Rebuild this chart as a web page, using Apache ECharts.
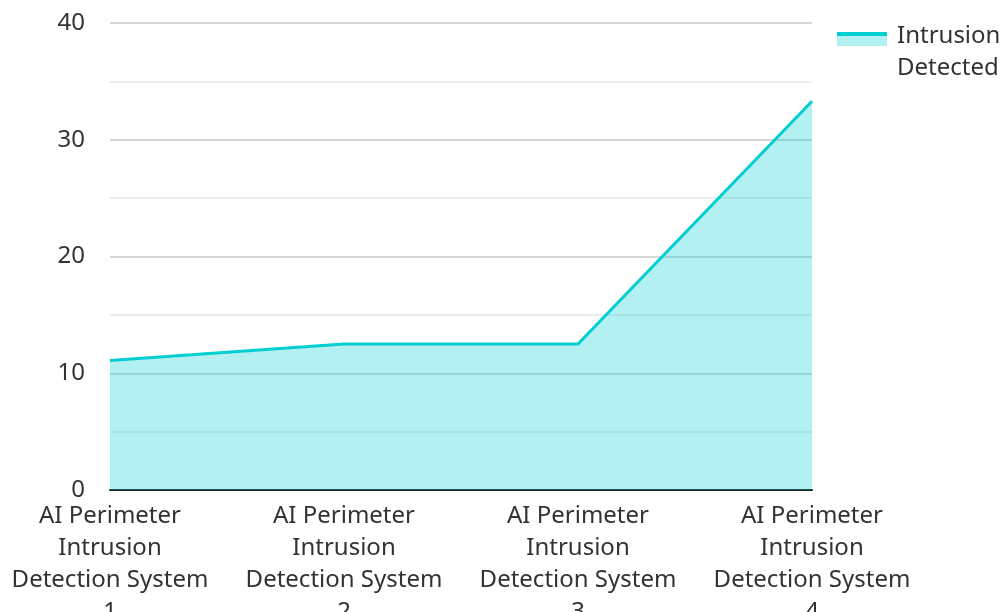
<!DOCTYPE html>
<html><head><meta charset="utf-8">
<script src="https://cdn.jsdelivr.net/npm/echarts@6/dist/echarts.min.js"></script>
<style>html,body{margin:0;padding:0;background:#fff}#c{width:1004px;height:612px}</style>
</head><body><div id="c"></div>
<script>
const categories = ["AI Perimeter Intrusion Detection System 1","AI Perimeter Intrusion Detection System 2","AI Perimeter Intrusion Detection System 3","AI Perimeter Intrusion Detection System 4"];
const seriesName = "Intrusion Detected";
const values = [11.1, 12.5, 12.5, 33.3];
const yTicks = [0, 10, 20, 30, 40];

const lineColor = '#00ced1';
const areaColor = '#b3f0f1';
const chart = echarts.init(document.getElementById('c'), null, {renderer:'canvas'});
chart.setOption({
  animation:false,
  textStyle:{fontFamily:'Noto Sans'},
  grid:{left:110,right:192,top:23,bottom:122,containLabel:false,outerBoundsMode:'none'},
  legend:{
    left:837, top:20, padding:0, itemWidth:50, itemHeight:40, itemGap:10,
    formatter: n => n.replace(' ', '\n'),
    textStyle:{fontSize:24,lineHeight:32,color:'#333',fontFamily:'Noto Sans',padding:[0,0,0,5]},
    itemStyle:{color:new echarts.graphic.LinearGradient(0,0,0,1,[
      {offset:0,color:lineColor},{offset:0.09,color:lineColor},{offset:0.09,color:areaColor},{offset:0.36,color:areaColor},
      {offset:0.36,color:'rgba(255,255,255,0)'},{offset:1,color:'rgba(255,255,255,0)'}]),borderWidth:0},
    icon:'rect',
    data:[seriesName]
  },
  xAxis:{
    type:'category', data:categories, boundaryGap:false,
    axisLine:{lineStyle:{color:'#222',width:2}},
    axisTick:{show:false},
    axisLabel:{
      fontSize:24, lineHeight:32, color:'#333', margin:10, interval:0,
      formatter: v => { const w=v.split(' '); return w.slice(0,2).join(' ')+'\n'+w[2]+'\n'+w.slice(3,5).join(' ')+'\n'+w.slice(5).join(' '); }
    },
    splitLine:{show:false}
  },
  yAxis:{
    type:'value', min:yTicks[0], max:yTicks[yTicks.length-1], interval:10,
    axisLine:{show:false}, axisTick:{show:false},
    axisLabel:{fontSize:24,color:'#333',margin:25},
    splitLine:{lineStyle:{color:'#c8c8c8',width:1.5}},
    minorTick:{show:false, splitNumber:2},
    minorSplitLine:{show:true,lineStyle:{color:'#e8e8e8',width:1.5}}
  },
  series:[{
    name:seriesName, type:'line', data:values, showSymbol:false, symbol:'none',
    lineStyle:{color:lineColor,width:3},
    itemStyle:{color:lineColor},
    areaStyle:{color:lineColor,opacity:0.3},
    z:1
  }]
});
</script></body></html>
